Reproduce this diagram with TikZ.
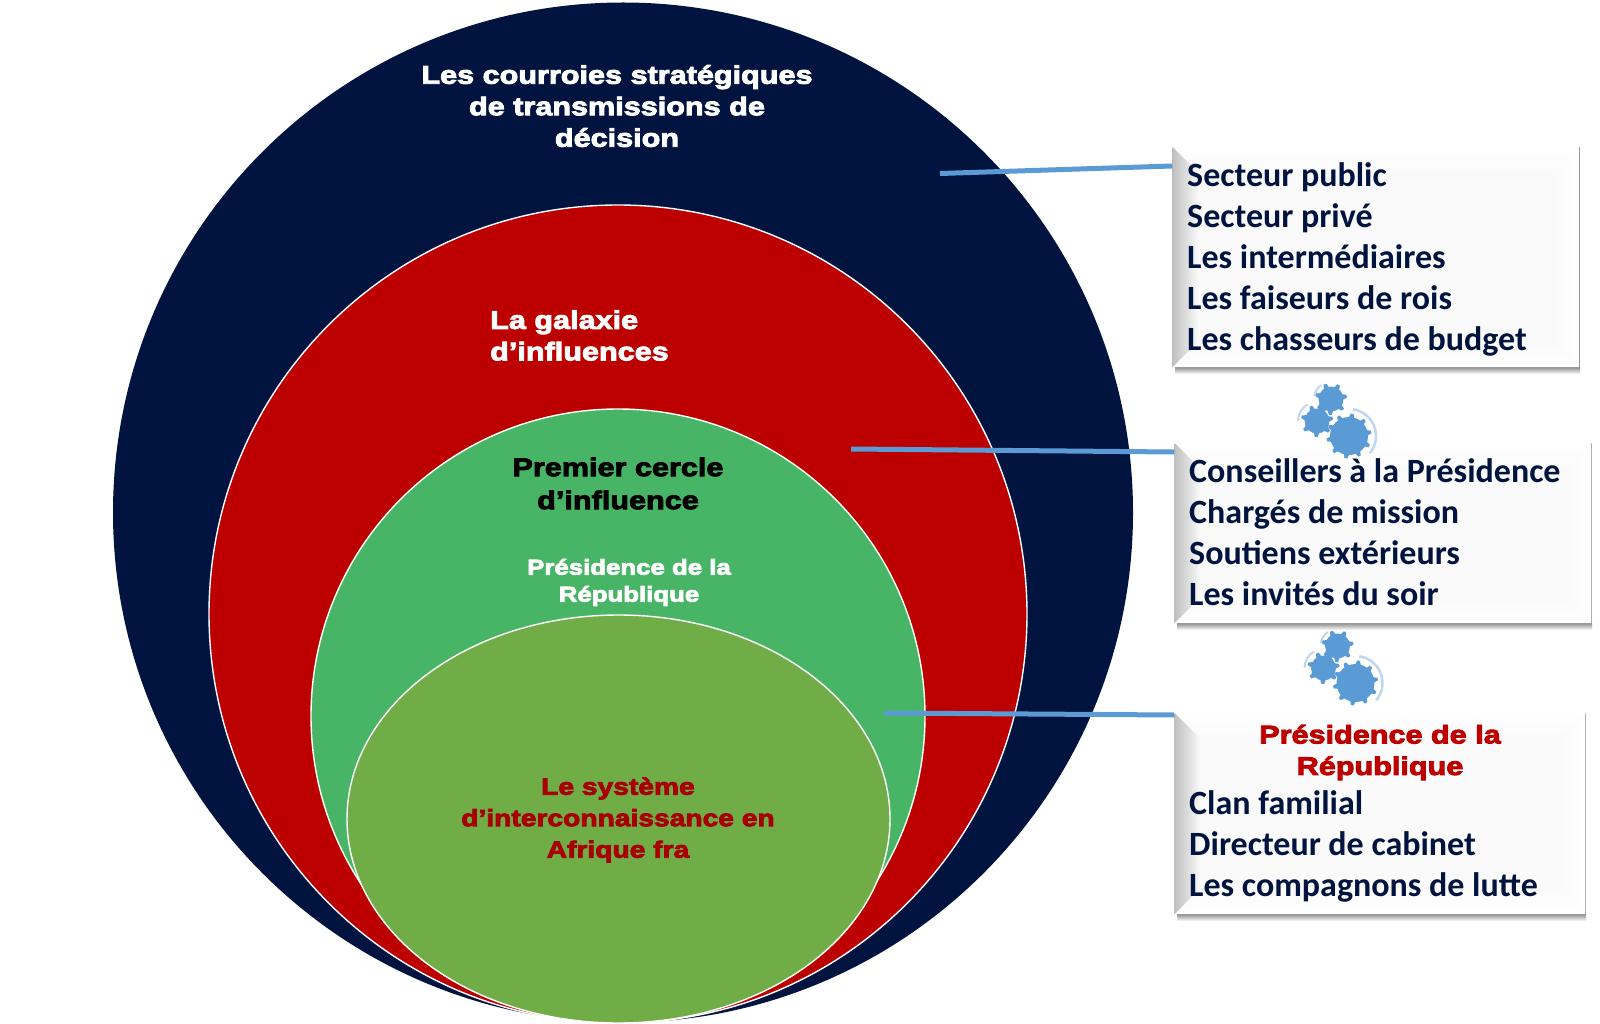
\documentclass[tikz,border=0pt]{standalone}
\usepackage{fontspec}
\setmainfont{Carlito}
\newfontfamily\heavy[FakeStretch=1.2,FakeBold=3.5]{Liberation Sans Bold}
\usetikzlibrary{calc,shapes.geometric}
\definecolor{navy}{HTML}{00143F}
\definecolor{redc}{HTML}{BC0000}
\definecolor{greenc}{HTML}{47B565}
\definecolor{olivec}{HTML}{70AD47}
\definecolor{bluel}{HTML}{5B9BD5}
\definecolor{arcc}{HTML}{BDD7EE}
\definecolor{darkred}{HTML}{A80000}
\definecolor{boxc}{HTML}{FAFAFA}
\newcommand{\gearat}[4]{%
  \fill[bluel] (#1,#2) circle (#3);
  \foreach \a in {1,...,#4}{
    \fill[bluel,shift={(#1,#2)},rotate=360*\a/#4+10]
      (#3-1,-2.8)--(#3+3.5,-1.4)--(#3+3.5,1.4)--(#3-1,2.8)--cycle;}
}
\tikzset{
  disc/.style={circle,draw=white,line width=1.4pt,inner sep=0pt},
  lab/.style={font=\heavy\fontsize{25.5}{31.5}\selectfont,align=center,inner sep=0pt},
  lead/.style={draw=bluel,line width=5pt},
  bodytext/.style={anchor=north west,inner sep=0pt,font=\fontsize{34}{41}\bfseries\selectfont,text=navy,align=flush left},
  bevelbox/.style={rectangle,fill=boxc,inner sep=0pt,anchor=center,
    path picture={
      \coordinate (nw) at (path picture bounding box.north west);
      \coordinate (ne) at (path picture bounding box.north east);
      \coordinate (sw) at (path picture bounding box.south west);
      \coordinate (se) at (path picture bounding box.south east);
      \shade[top color=white,bottom color=boxc] (nw)--(ne)--($(ne)+(-26,26)$)--($(nw)+(26,26)$)--cycle;
      \shade[top color=boxc,bottom color=white] (sw)--(se)--($(se)+(-26,-26)$)--($(sw)+(26,-26)$)--cycle;
      \shade[left color=boxc,right color=white] (ne)--(se)--($(se)+(-26,-26)$)--($(ne)+(-26,26)$)--cycle;
      \shade[left color=black!25,right color=boxc] (nw)--(sw)--($(sw)+(26,-26)$)--($(nw)+(26,26)$)--cycle;
    }},
  gearset/.pic={
    \gearat{-18}{-37}{12.5}{7}
    \gearat{-32}{-15}{12.5}{7}
    \gearat{0}{0}{19}{10}
    \draw[arcc,line width=2.5pt] ($(0,0)+(-82:27)$) arc[start angle=-82,end angle=40,radius=27];
    \draw[arcc,line width=2pt] ($(-32,-15)+(180:19)$) arc[start angle=180,end angle=240,radius=19];
    \draw[arcc,line width=2pt] ($(-18,-37)+(190:17)$) arc[start angle=190,end angle=235,radius=17];
  }
}
\begin{document}
\begin{tikzpicture}[x=1pt,y=-1pt]
\useasboundingbox (0,0) rectangle (1600,1024);
\fill[white] (0,0) rectangle (1600,1024);
% discs
\node[disc,fill=navy,draw=none,minimum size=1020pt] (outer) at (623,512.5) {};
\node[disc,fill=redc,minimum size=818pt] (red) at (618,614) {};
\node[disc,fill=greenc,minimum size=614pt] (green) at (618,716) {};
\node[ellipse,draw=white,line width=1.4pt,fill=olivec,minimum width=543pt,minimum height=408pt,inner sep=0pt] (olive) at (618.5,819) {};
% labels
\node[lab,text=white] (l1) at (617,106) {Les courroies stratégiques\\de transmissions de\\décision};
\node[lab,text=white,align=left,anchor=west] (l2) at (490,335.5) {La galaxie\\d’influences};
\node[lab,text=black,font=\heavy\fontsize{25.5}{33}\selectfont] (l3) at (618,483.5) {Premier cercle\\d’influence};
\node[lab,text=white,font=\heavy\fontsize{21.5}{27}\selectfont] (l4) at (629,582.5) {Présidence de la\\République};
\node[lab,text=darkred,font=\heavy\fontsize{23.5}{31.5}\selectfont] (l5) at (618,820) {Le système\\d’interconnaissance en\\Afrique fra};
% box shadows
\foreach \xa/\xb/\yy in {1173/1580/367,1175/1592/623,1175/1586/914}{
  \shade[top color=black!45,bottom color=white] (\xa+2,\yy) rectangle (\xb,\yy+7);
}
% boxes
\node[bevelbox,minimum width=407pt,minimum height=220pt] (b1) at (1376,257) {};
\node[bevelbox,minimum width=417pt,minimum height=180pt] (b2) at (1383,533) {};
\node[bevelbox,minimum width=411pt,minimum height=201pt] (b3) at (1380,813.5) {};
\node[bodytext] (t1) at (1187,162.5)
 {Secteur public\\Secteur privé\\Les intermédiaires\\Les faiseurs de rois\\Les chasseurs de budget};
\node[bodytext] (t2) at (1189,458.5)
 {Conseillers à la Présidence\\Chargés de mission\\Soutiens extérieurs\\Les invités du soir};
\node[lab,text=redc] (h3) at (1380,752.5) {Présidence de la\\République};
\node[bodytext] (t3) at (1189,790)
 {Clan familial\\Directeur de cabinet\\Les compagnons de lutte};
\draw[black!40,line width=1pt] (b1.north east)--(b1.south east);
\draw[black!30,line width=1.5pt] (b2.north east)--(b2.south east);
\draw[black!30,line width=1.5pt] (b3.north east)--(b3.south east);
% connectors
\coordinate (c1) at (940,173.5);
\coordinate (c2) at (851,449);
\coordinate (c3) at (884,713);
\draw[lead] (c1)--($(b1.west)+(0,-91)$);
\draw[lead] (c2)--($(b2.west)+(0,-81)$);
\draw[lead] (c3)--($(b3.west)+(0,-98.5)$);
% gears
\pic at (1349,436) {gearset};
\pic at (1355.5,683) {gearset};
\end{tikzpicture}
\end{document}
